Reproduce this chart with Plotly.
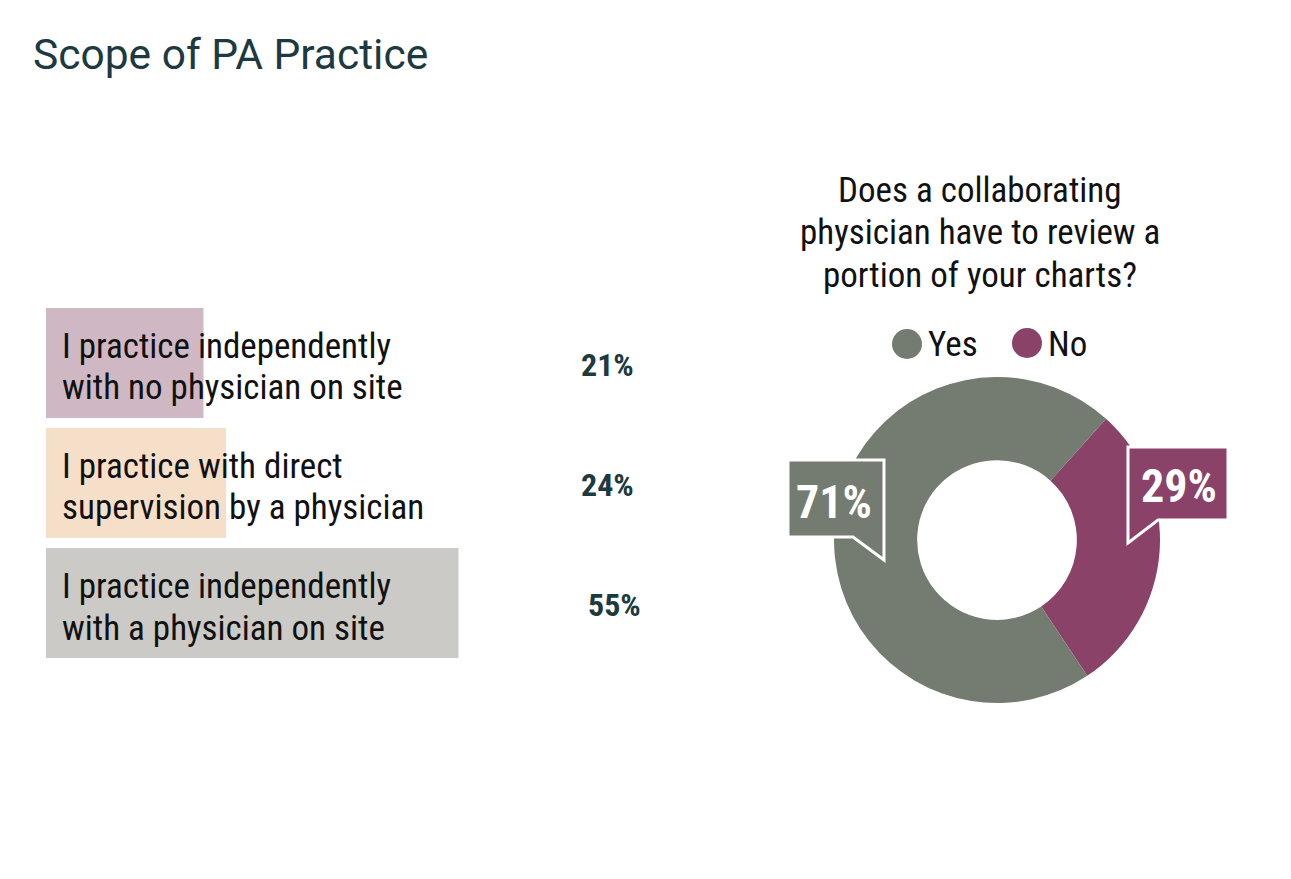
import plotly.graph_objects as go

# page has an 8px body margin, so the figure is a little smaller than the window
OFF = 8
W, H = 1291 - OFF, 879 - OFF

# left panel: practice setting
scope_labels = [
    "I practice independently<br>with no physician on site",
    "I practice with direct<br>supervision by a physician",
    "I practice independently<br>with a physician on site",
]
scope_values = [21, 24, 55]
scope_text = ["21%", "24%", "55%"]
scope_colors = ["#cfb8c4", "#f6dfc9", "#cbcac6"]

# right panel: chart review
review_title = "Does a collaborating<br>physician have to review a<br>portion of your charts?"
review_labels = ["No", "Yes"]
review_values = [29, 71]
review_text = ["29%", "71%"]
review_colors = ["#8a4269", "#747b70"]

font_body = "Roboto Condensed, Roboto, sans-serif"
dark = "#1c3a40"
black = "#111111"


def px(x, y):
    # window pixel (from top-left) -> paper coords
    return (x - OFF) / W, 1 - (y - OFF) / H


def path(points):
    pts = [px(x, y) for x, y in points]
    return "M " + " L ".join("{:.5f},{:.5f}".format(a, b) for a, b in pts) + " Z"


def text_lines(text, x, y, step, size, color, anchor="center", bold=False):
    # one annotation per line so the line spacing can follow the original
    lines = text.split("<br>")
    out = []
    for k, line in enumerate(lines):
        ax, ay = px(x, y + (k - (len(lines) - 1) / 2) * step)
        out.append(dict(
            x=ax, y=ay, xref="paper", yref="paper",
            text="<b>" + line + "</b>" if bold else line,
            showarrow=False, xanchor=anchor, yanchor="middle",
            font=dict(family=font_body, size=size, color=color),
        ))
    return out


fig = go.Figure()

fig.add_trace(go.Bar(
    x=scope_values,
    y=list(range(len(scope_values))),
    orientation="h",
    marker=dict(color=scope_colors, line=dict(width=0)),
    hoverinfo="skip",
    showlegend=False,
))

d0 = px(834, 703)
d1 = px(1160, 377)
fig.add_trace(go.Pie(
    labels=review_labels,
    values=review_values,
    marker=dict(colors=review_colors, line=dict(width=0)),
    hole=0.49,
    sort=False,
    direction="clockwise",
    rotation=42,
    textinfo="none",
    hoverinfo="label+percent",
    showlegend=False,
    domain=dict(x=[d0[0], d1[0]], y=[d0[1], d1[1]]),
))

annotations = []
bar_centres = [363, 483, 603]
pct_x = [607, 607, 614]
for i, (lab, txt) in enumerate(zip(scope_labels, scope_text)):
    annotations += text_lines(lab, 60, bar_centres[i] + 4, 42, 35, black, anchor="left")
    annotations += text_lines(txt, pct_x[i], bar_centres[i] + 2, 0, 32, dark, bold=True)

# callout boxes on the donut
callouts = {
    "Yes": [(788, 460), (884, 460), (884, 560), (853, 537), (788, 537)],
    "No": [(1128, 447), (1228, 447), (1228, 520), (1158, 520), (1128, 543)],
}
callout_text_pos = {"Yes": (834, 502), "No": (1179, 486)}
shapes = []
for lab, col, txt in zip(review_labels, review_colors, review_text):
    shapes.append(dict(
        type="path", xref="paper", yref="paper", path=path(callouts[lab]),
        fillcolor=col, line=dict(color="white", width=3),
    ))
    cx, cy = callout_text_pos[lab]
    annotations += text_lines(txt, cx, cy, 0, 46, "white", bold=True)

# legend: circles + labels
legend_pos = {"Yes": (907, 344), "No": (1027, 343)}
for lab, col in zip(review_labels, review_colors):
    x, y = legend_pos[lab]
    x0, y0 = px(x - 15, y + 15)
    x1, y1 = px(x + 15, y - 15)
    shapes.append(dict(
        type="circle", xref="paper", yref="paper", x0=x0, y0=y0, x1=x1, y1=y1,
        fillcolor=col, line=dict(width=0),
    ))
    annotations += text_lines(lab, x + 19, y + 1, 0, 35, black, anchor="left")

annotations += text_lines(review_title, 980, 233, 42.5, 35, black)

tx, ty = px(31, 55)
annotations.append(dict(
    x=tx, y=ty, xref="paper", yref="paper", text="Scope of PA Practice",
    showarrow=False, xanchor="left", yanchor="middle",
    font=dict(family="Roboto, sans-serif", size=42.5, color=dark),
))

xa0, ya0 = px(46, 663)
xa1, ya1 = px(700, 303)
fig.update_layout(
    width=W, height=H,
    margin=dict(l=0, r=0, t=0, b=0),
    paper_bgcolor="white", plot_bgcolor="white",
    bargap=10 / 120,
    xaxis=dict(domain=[xa0, xa1], range=[0, 654 / 7.5], visible=False, fixedrange=True),
    yaxis=dict(domain=[ya0, ya1], range=[2.5, -0.5], visible=False, fixedrange=True),
    shapes=shapes,
    annotations=annotations,
)

fig.write_html("out.html")
